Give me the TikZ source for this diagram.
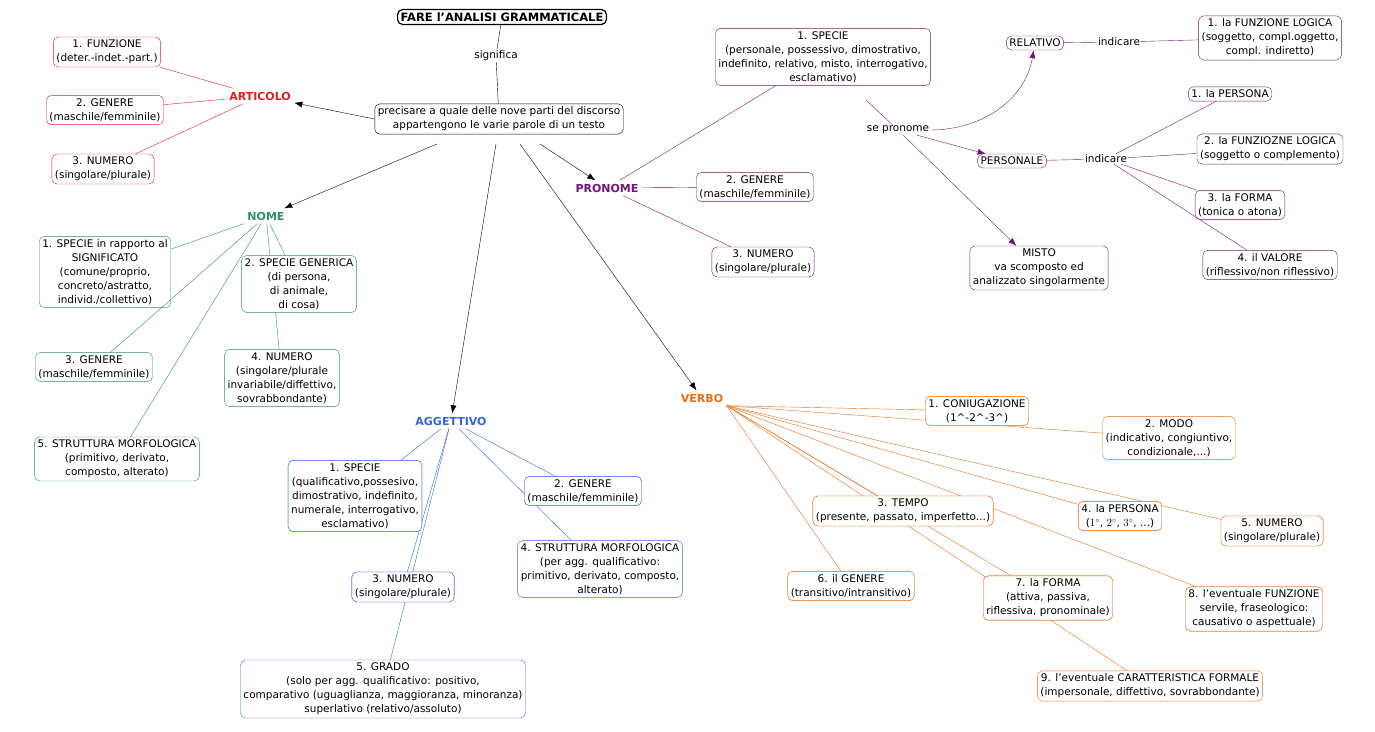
\documentclass[tikz,border=0pt]{standalone}
\usepackage{fontspec}
\setmainfont{DejaVu Sans}
\usetikzlibrary{arrows.meta}

\definecolor{artred}{RGB}{225,30,30}
\definecolor{nomegreen}{RGB}{50,140,100}
\definecolor{aggblue}{RGB}{55,100,220}
\definecolor{propurple}{RGB}{115,20,120}
\definecolor{verbo}{RGB}{235,110,20}

\tikzset{
  box/.style={draw, rounded corners=5pt, align=center, inner sep=3pt, fill=white, font=\fontsize{10.5}{14}\selectfont},
  cat/.style={font=\fontsize{11}{13}\selectfont\bfseries},
  lbl/.style={fill=white, inner sep=1pt, font=\fontsize{10.5}{13}\selectfont},
  arr/.style={-{Latex[length=8pt,width=6pt]}},
}

\begin{document}
\begin{tikzpicture}[x=1pt,y=-1pt]
    \useasboundingbox (0,0) rectangle (1375,731);

    % centro
    \node[box, very thick, font=\fontsize{11.5}{14}\selectfont\bfseries] (title) at (502,17) {FARE l'ANALISI GRAMMATICALE};
    \node[lbl] (sig) at (496,56) {significa};
    \node[box] (main) at (499,119) {precisare a quale delle nove parti del discorso\\appartengono le varie parole di un testo};
    \draw (title) -- (sig) -- (main);

    % categorie
    \node[cat, artred] (art) at (260,96) {ARTICOLO};
    \node[cat, nomegreen] (nome) at (266,216) {NOME};
    \node[cat, aggblue] (agg) at (451,421) {AGGETTIVO};
    \node[cat, propurple] (pro) at (607,188) {PRONOME};
    \node[cat, verbo] (verb) at (702,398) {VERBO};
    \draw[arr] (main.west) -- (art);
    \draw[arr] (437,144) -- (nome);
    \draw[arr] (496,144) -- (agg);
    \draw[arr] (540,144) -- (pro);
    \draw[arr] (520,144) -- (verb);

    % articolo
    \tikzset{box/.append style={draw=artred}}
    \node[box] (art1) at (107,52) {1. FUNZIONE\\(deter.-indet.-part.)};
    \node[box] (art2) at (105,110) {2. GENERE\\(maschile/femminile)};
    \node[box] (art3) at (103,169) {3. NUMERO\\(singolare/plurale)};
    \foreach \c in {art1,art2,art3}
        \draw[artred] (art) -- (\c);

    % nome
    \tikzset{box/.append style={draw=nomegreen}}
    \node[box] (nome1) at (105,272) {1. SPECIE in rapporto al\\SIGNIFICATO\\(comune/proprio,\\concreto/astratto,\\individ./collettivo)};
    \node[box] (nome3) at (94,367) {3. GENERE\\(maschile/femminile)};
    \node[box] (nome4) at (282,378) {4. NUMERO\\(singolare/plurale\\invariabile/diffettivo,\\sovrabbondante)};
    \node[box] (nome5) at (117,459) {5. STRUTTURA MORFOLOGICA\\(primitivo, derivato,\\composto, alterato)};
    \foreach \c in {nome1,nome3,nome4,nome5}
        \draw[nomegreen] (nome) -- (\c);
    \node[box] (nome2) at (299,284) {2. SPECIE GENERICA\\(di persona,\\di animale,\\di cosa)};
    \draw[nomegreen] (nome) -- (nome2);

    % aggettivo
    \tikzset{box/.append style={draw=aggblue}}
    \node[box] (agg1) at (355,496) {1. SPECIE\\(qualificativo,possesivo,\\dimostrativo, indefinito,\\numerale, interrogativo,\\esclamativo)};
    \node[box] (agg2) at (583,491) {2. GENERE\\(maschile/femminile)};
    \node[box] (agg3) at (403,587) {3. NUMERO\\(singolare/plurale)};
    \node[box] (agg4) at (600,569) {4. STRUTTURA MORFOLOGICA\\(per agg. qualificativo:\\primitivo, derivato, composto,\\alterato)};
    \node[box] (agg5) at (383,689) {5. GRADO\\(solo per agg. qualificativo: positivo,\\comparativo (uguaglianza, maggioranza, minoranza)\\superlativo (relativo/assoluto)};
    \foreach \c in {agg1,agg2,agg3,agg4,agg5}
        \draw[aggblue] (agg) -- (\c);
    \node[box] at (agg1) {1. SPECIE\\(qualificativo,possesivo,\\dimostrativo, indefinito,\\numerale, interrogativo,\\esclamativo)};
    \node[box] at (agg3) {3. NUMERO\\(singolare/plurale)};
    \node[box] at (agg2) {2. GENERE\\(maschile/femminile)};

    % pronome
    \tikzset{box/.append style={draw=propurple}}
    \node[box] (pro1) at (823,57) {1. SPECIE\\(personale, possessivo, dimostrativo,\\indefinito, relativo, misto, interrogativo,\\esclamativo)};
    \node[box] (pro2) at (755,187) {2. GENERE\\(maschile/femminile)};
    \node[box] (pro3) at (763,262) {3. NUMERO\\(singolare/plurale)};
    \foreach \c in {pro1,pro2,pro3}
        \draw[propurple] (pro) -- (\c);
    \node[lbl] (sepro) at (898,130) {se pronome};
    \node[box] (rel) at (1035,43) {RELATIVO};
    \node[box] (pers) at (1012,161) {PERSONALE};
    \node[box] (misto) at (1039,268) {MISTO\\va scomposto ed\\analizzato singolarmente};
    \draw[propurple] (866,100) -- (sepro);
    \draw[propurple, arr] (sepro) to[out=0, in=-100] (rel);
    \draw[propurple, arr] (sepro) -- (pers);
    \draw[propurple, arr] (sepro) -- (misto);
    \node[lbl] (ind1) at (1119,42) {indicare};
    \node[box] (rel1) at (1270,38) {1. la FUNZIONE LOGICA\\(soggetto, compl.oggetto,\\compl. indiretto)};
    \draw[propurple] (rel) -- (ind1) -- (rel1);
    \node[lbl] (ind2) at (1106,159) {indicare};
    \node[box] (pers1) at (1230,94) {1. la PERSONA};
    \node[box] (pers2) at (1270,149) {2. la FUNZIOZNE LOGICA\\(soggetto o complemento)};
    \node[box] (pers3) at (1240,205) {3. la FORMA\\(tonica o atona)};
    \node[box] (pers4) at (1270,265) {4. il VALORE\\(riflessivo/non riflessivo)};
    \draw[propurple] (pers) -- (ind2);
    \foreach \c in {pers1,pers2,pers3,pers4}
        \draw[propurple] (ind2) -- (\c);

    % verbo
    \tikzset{box/.append style={draw=verbo}}
    \node[box] (v1) at (977,411) {1. CONIUGAZIONE\\(1\^{}-2\^{}-3\^{})};
    \node[box] (v2) at (1169,438) {2. MODO\\(indicativo, congiuntivo,\\condizionale,...)};
    \node[box] (v5) at (1272,531) {5. NUMERO\\(singolare/plurale)};
    \node[box] (v6) at (851,586) {6. il GENERE\\(transitivo/intransitivo)};
    \node[box] (v7) at (1048,598) {7. la FORMA\\(attiva, passiva,\\riflessiva, pronominale)};
    \node[box] (v8) at (1254,609) {8. l'eventuale FUNZIONE\\servile, fraseologico:\\causativo o aspettuale)};
    \node[box] (v9) at (1150,686) {9. l'eventuale CARATTERISTICA FORMALE\\(impersonale, diffettivo, sovrabbondante)};
    \node[box] (v3) at (903,511) {3. TEMPO\\(presente, passato, imperfetto...)};
    \node[box] (v4) at (1120,516) {4. la PERSONA\\($1^\circ$, $2^\circ$, $3^\circ$, ...)};
    \foreach \c in {v1,v2,v3,v4,v5,v6,v7,v8,v9}
        \draw[verbo] (verb.south east) -- (\c);
    \node[box] at (v3) {3. TEMPO\\(presente, passato, imperfetto...)};
    \node[box] at (v4) {4. la PERSONA\\($1^\circ$, $2^\circ$, $3^\circ$, ...)};
    \node[box] at (v1) {1. CONIUGAZIONE\\(1\^{}-2\^{}-3\^{})};
    \node[box] at (v6) {6. il GENERE\\(transitivo/intransitivo)};
    \node[box] at (v7) {7. la FORMA\\(attiva, passiva,\\riflessiva, pronominale)};
    \node[box] at (v5) {5. NUMERO\\(singolare/plurale)};
    \node[box] at (v8) {8. l'eventuale FUNZIONE\\servile, fraseologico:\\causativo o aspettuale)};
\end{tikzpicture}
\end{document}
